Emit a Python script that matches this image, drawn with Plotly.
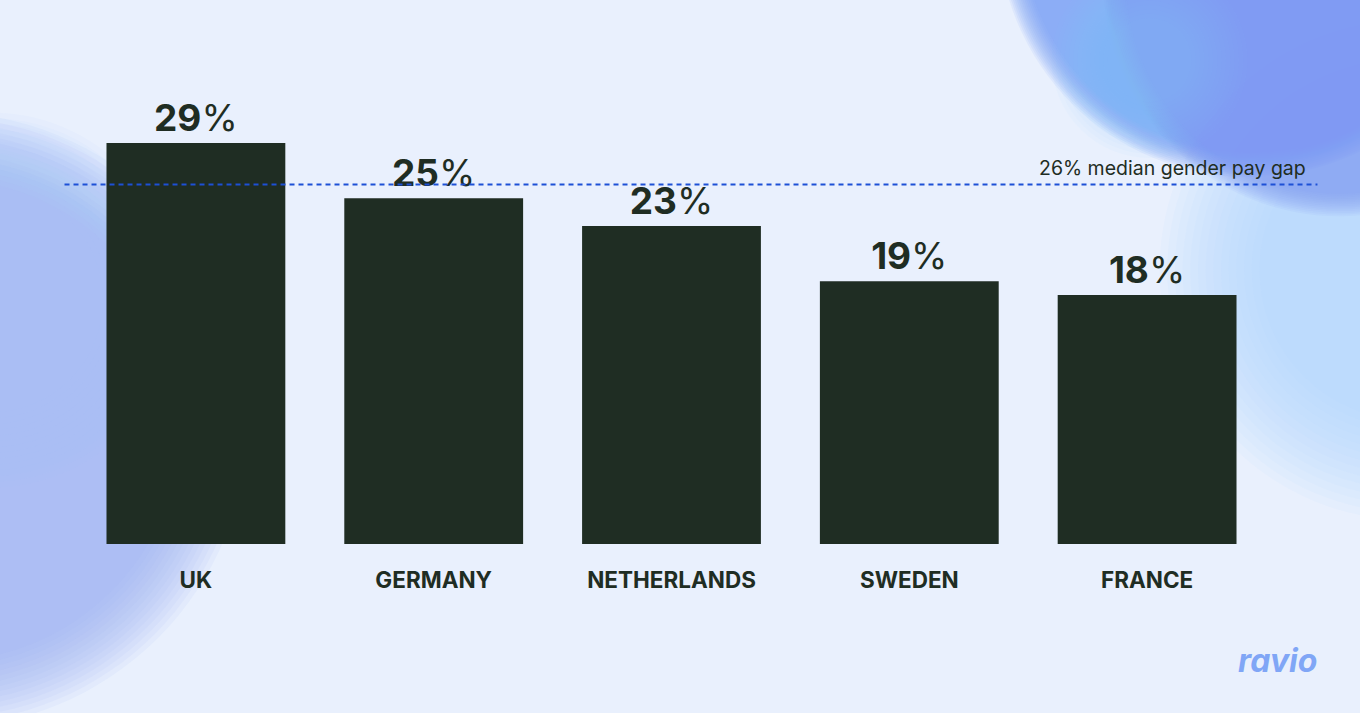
import plotly.graph_objects as go

countries = ["UK", "GERMANY", "NETHERLANDS", "SWEDEN", "FRANCE"]
pay_gap = [29, 25, 23, 19, 18]
median_gap = 26
median_label = "26% median gender pay gap"

BAR = "#1f2d23"
TEXT = "#1f2d23"
BG = "#e9f0fd"

# plot area in pixels
PL, PR, PT, PB = 76.5, 1266.5, 50, 544
PW, PH = PR - PL, PB - PT


def to_paper(x, y):
    return (x - PL) / PW, (PB - y) / PH


def blob(x, y, r, color, steps=14, spread=0.25, alpha=0.07):
    # concentric translucent circles => soft edged blob
    res = []
    cx, cy = to_paper(x, y)
    for i in range(steps):
        rr = r * (1 + spread - 2 * spread * i / (steps - 1))
        res.append(dict(
            type="circle", xref="paper", yref="paper", layer="below",
            x0=cx - rr / PW, x1=cx + rr / PW,
            y0=cy - rr / PH, y1=cy + rr / PH,
            fillcolor=color, opacity=alpha, line=dict(width=0),
        ))
    return res


fig = go.Figure()
fig.add_trace(go.Bar(
    x=countries,
    y=pay_gap,
    marker=dict(color=BAR, line=dict(width=0)),
    texttemplate="<b>%{y}</b>%",
    textposition="outside",
    textfont=dict(size=37, color=TEXT, family="Inter"),
    cliponaxis=False,
    hoverinfo="skip",
))

shapes = []
# right side cyan glow
shapes += blob(1410, 270, 200, "#a3d0ff", alpha=0.07)
# left lavender/blue blob
shapes += blob(-60, 420, 275, "#97b2f6", spread=0.12, alpha=0.09)
shapes += blob(-10, 300, 150, "#a6cbff", alpha=0.06)
# top-right blob
shapes += blob(1250, -75, 240, "#7a9cf5", spread=0.05, alpha=0.1)
shapes += blob(1340, -20, 225, "#7a9ff6", spread=0.05, alpha=0.08)
shapes += blob(1150, 60, 70, "#8cc0fb", spread=0.4, alpha=0.04)

# median line spanning beyond the bars
x0, _ = to_paper(64, 0)
x1, _ = to_paper(1318, 0)
shapes.append(dict(
    type="line", xref="paper", yref="y", x0=x0, x1=x1,
    y0=median_gap, y1=median_gap,
    line=dict(color="#1d50d6", width=2, dash="5px,4px"), layer="above",
))

fig.update_layout(
    width=1360, height=713,
    paper_bgcolor=BG, plot_bgcolor="rgba(0,0,0,0)",
    font=dict(family="Inter", color=TEXT),
    margin=dict(l=PL, r=1360 - PR, t=PT, b=713 - PB),
    bargap=0.248,
    showlegend=False,
    shapes=shapes,
    annotations=[
        dict(
            text=median_label, xref="paper", yref="y",
            x=to_paper(1309, 0)[0], y=median_gap, xanchor="right", yanchor="bottom",
            yshift=2, showarrow=False,
            font=dict(size=19.5, color=TEXT, family="Inter"),
        ),
        dict(
            text="<b><i>ravio</i></b>", xref="paper", yref="paper",
            x=to_paper(1278, 0)[0], y=to_paper(0, 660)[1],
            xanchor="center", yanchor="middle", showarrow=False,
            font=dict(size=32, color="#80a6f6", family="Inter"),
        ),
    ],
)
fig.update_xaxes(
    showgrid=False, zeroline=False, showline=False, ticks="",
    tickfont=dict(size=22.5, color=TEXT, family="Inter", weight="bold"),
    ticklabelstandoff=20,
)
fig.update_yaxes(range=[0, PH / 13.83], visible=False)

fig.write_html("out.html", config={"displayModeBar": False},
               post_script="document.body.style.margin='0';")
